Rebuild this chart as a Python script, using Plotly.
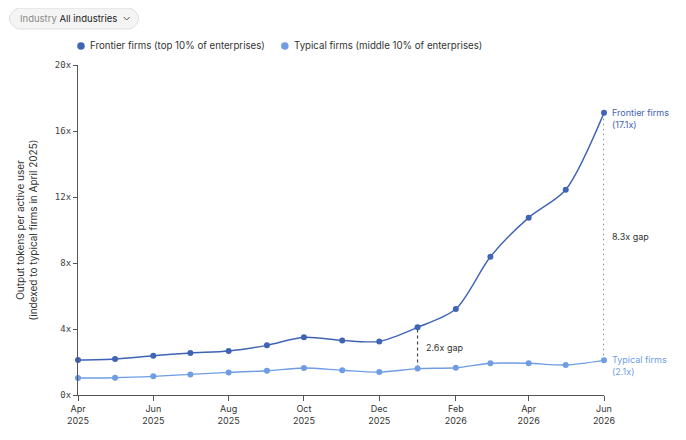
import plotly.graph_objects as go

# monthly values, Apr 2025 .. Jun 2026
months = ["2025-04-01", "2025-05-01", "2025-06-01", "2025-07-01", "2025-08-01",
          "2025-09-01", "2025-10-01", "2025-11-01", "2025-12-01", "2026-01-01",
          "2026-02-01", "2026-03-01", "2026-04-01", "2026-05-01", "2026-06-01"]
frontier = [2.12, 2.18, 2.38, 2.55, 2.67, 3.01, 3.5, 3.31, 3.25, 4.1,
            5.21, 8.38, 10.75, 12.44, 17.1]
typical = [1.03, 1.05, 1.13, 1.25, 1.37, 1.47, 1.64, 1.5, 1.39, 1.6,
           1.65, 1.92, 1.92, 1.82, 2.1]

tick_vals = ["2025-04-01", "2025-06-01", "2025-08-01", "2025-10-01",
             "2025-12-01", "2026-02-01", "2026-04-01", "2026-06-01"]
tick_text = ["Apr<br>2025", "Jun<br>2025", "Aug<br>2025", "Oct<br>2025",
             "Dec<br>2025", "Feb<br>2026", "Apr<br>2026", "Jun<br>2026"]
y_ticks = [0, 4, 8, 12, 16, 20]

frontier_color = "#3f63b5"
typical_color = "#6f9de4"
font = "Inter, Noto Sans, sans-serif"


# screen pixel -> paper coords (plot area is 75..604 x 65..395 on screen)
def px_x(p):
    return (p - 75) / 529


def px_y(p):
    return (395 - p) / 330


fig = go.Figure()
series = [("Frontier firms (top 10% of enterprises)", frontier, frontier_color, 78),
          ("Typical firms (middle 10% of enterprises)", typical, typical_color, 283)]
for name, vals, col, lx in series:
    fig.add_trace(go.Scatter(x=months, y=vals, mode="lines+markers", name=name, showlegend=False,
                             line=dict(color=col, width=1.4, shape="spline", smoothing=0.8),
                             marker=dict(size=6, color=col), cliponaxis=False))
    # hand-made legend entry (dot + label)
    fig.add_shape(type="circle", xref="paper", yref="paper",
                  x0=px_x(lx - 3.8), x1=px_x(lx + 3.8), y0=px_y(46 - 3.8), y1=px_y(46 + 3.8),
                  fillcolor=col, line=dict(width=0))
    fig.add_annotation(xref="paper", yref="paper", x=px_x(lx + 7), y=px_y(46),
                       xanchor="left", yanchor="middle", text=name, showarrow=False,
                       font=dict(size=9.7, color="#333", family=font))

# gap lines
gap_idx = [9, 14]
gap_dash = ["3px,3px", "1.5px,3.5px"]
for i, d in zip(gap_idx, gap_dash):
    fig.add_shape(type="line", x0=months[i], x1=months[i], y0=typical[i], y1=frontier[i],
                  line=dict(color="#444", width=1.2, dash=d), layer="below")

fig.add_annotation(x=months[9], y=(frontier[9] + typical[9]) / 2, text="2.6x gap",
                   xanchor="left", xshift=6, showarrow=False,
                   font=dict(size=9, color="#333", family=font))
fig.add_annotation(x=months[14], y=9.6, text="8.3x gap",
                   xanchor="left", xshift=6, showarrow=False,
                   font=dict(size=9, color="#333", family=font))
fig.add_annotation(x=months[14], y=frontier[14], text="Frontier firms<br>(17.1x)",
                   xanchor="left", yanchor="top", xshift=6, yshift=8, showarrow=False, align="left",
                   font=dict(size=9, color=frontier_color, family=font))
fig.add_annotation(x=months[14], y=typical[14], text="Typical firms<br>(2.1x)",
                   xanchor="left", yanchor="top", xshift=6, yshift=8, showarrow=False, align="left",
                   font=dict(size=9, color=typical_color, family=font))

# industry selector pill
x0, x1, y0, y1, r = 6, 136, 8, 29, 10.5
k = 0.45 * r
path = (f"M {px_x(x0 + r)},{px_y(y0)} L {px_x(x1 - r)},{px_y(y0)} "
        f"C {px_x(x1 - r + k)},{px_y(y0)} {px_x(x1)},{px_y(y0 + r - k)} {px_x(x1)},{px_y(y0 + r)} "
        f"C {px_x(x1)},{px_y(y1 - r + k)} {px_x(x1 - r + k)},{px_y(y1)} {px_x(x1 - r)},{px_y(y1)} "
        f"L {px_x(x0 + r)},{px_y(y1)} "
        f"C {px_x(x0 + r - k)},{px_y(y1)} {px_x(x0)},{px_y(y1 - r + k)} {px_x(x0)},{px_y(y1 - r)} "
        f"C {px_x(x0)},{px_y(y0 + r - k)} {px_x(x0 + r - k)},{px_y(y0)} {px_x(x0 + r)},{px_y(y0)} Z")
fig.add_shape(type="path", path=path, xref="paper", yref="paper",
              fillcolor="#f4f4f4", line=dict(color="#dedede", width=1))
fig.add_shape(type="path", xref="paper", yref="paper",
              path=f"M {px_x(121)},{px_y(17)} L {px_x(124)},{px_y(20)} L {px_x(127)},{px_y(17)}",
              line=dict(color="#555", width=1))
fig.add_annotation(xref="paper", yref="paper", x=px_x(15), y=px_y(18.5),
                   xanchor="left", yanchor="middle",
                   text="<span style='color:#8a8a8a'>Industry</span> All industries",
                   showarrow=False, font=dict(size=9.5, color="#222", family=font))

fig.update_layout(
    width=686, height=440,
    # page body adds 8px offset, so margins are shifted
    margin=dict(l=67, r=90, t=57, b=53),
    plot_bgcolor="white", paper_bgcolor="white",
    font=dict(family=font, size=9, color="#333"),
    showlegend=False,
    xaxis=dict(range=[months[0], months[-1]], tickvals=tick_vals, ticktext=tick_text,
               showgrid=False, zeroline=False, showline=True, linecolor="#555", linewidth=1.2,
               ticks="outside", ticklen=5, tickcolor="#555",
               tickfont=dict(size=9, color="#333", family=font)),
    yaxis=dict(range=[0, 20], tickvals=y_ticks, ticktext=[f"{v}x" for v in y_ticks],
               showgrid=False, zeroline=False, showline=True, linecolor="#555", linewidth=1.2,
               ticks="outside", ticklen=4, tickcolor="#555",
               tickfont=dict(size=9, color="#444", family="DejaVu Sans Mono"),
               title=dict(text="Output tokens per active user<br>(indexed to typical firms in April 2025)",
                          font=dict(size=10, color="#333", family=font), standoff=15)),
)

fig.write_html("out.html")
